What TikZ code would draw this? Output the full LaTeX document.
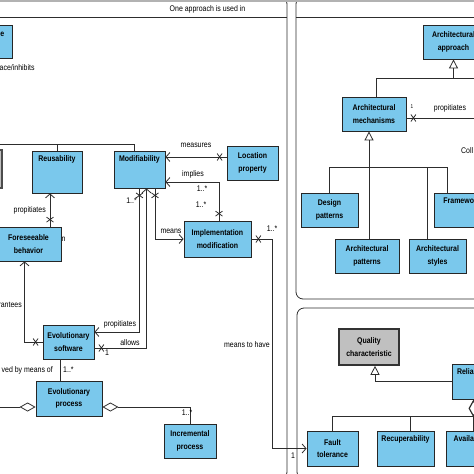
\documentclass[tikz,border=0pt]{standalone}
\usepackage{fontspec}
\setmainfont{Liberation Sans}[FakeStretch=0.85]
\usetikzlibrary{arrows.meta,decorations.markings}
\definecolor{clsblue}{RGB}{122,200,236}
\definecolor{wirec}{RGB}{45,45,45}
\definecolor{qgray}{RGB}{192,192,192}

\begin{document}
\begin{tikzpicture}[x=1pt,y=-1pt,>={Straight Barb[length=4pt,width=9pt]},
    font=\fontsize{8.2}{12.5}\selectfont,
    cls/.style={draw=black!85,fill=clsblue,line width=0.8pt,inner sep=0pt,align=center,
        font=\fontsize{8.2}{12.5}\selectfont\bfseries},
    topname/.style={cls,text height=10.5pt,text depth=#1},
    lbl/.style={inner sep=0pt},
    wire/.style={draw=wirec,line width=0.8pt},
    xs/.style={postaction={decorate,decoration={markings,mark=at position 7pt with
        {\draw[wire,-] (-2.5,-3.5) -- (2.5,3.5) (-2.5,3.5) -- (2.5,-3.5);}}}},
    xe/.style={postaction={decorate,decoration={markings,mark=at position -7pt with
        {\draw[wire,-] (-2.5,-3.5) -- (2.5,3.5) (-2.5,3.5) -- (2.5,-3.5);}}}},
    inh/.style={-{Triangle[open,length=9pt,width=9pt]}},
    agg/.style={{Diamond[open,length=16pt,width=9pt]}-}]
    \useasboundingbox (0,0) rectangle (474,474);
    \clip (0,0) rectangle (474,474);

    % panels
    \draw[wire,rounded corners=7pt] (-20,-3) rectangle (287,479);
    \draw[wire,rounded corners=7pt] (296,-3) rectangle (490,299);
    \draw[wire,rounded corners=7pt] (297,308) rectangle (490,479);
    \draw[wire] (-5,17) -- (287,17);
    \draw[wire] (296,17) -- (490,17);
    \fill[black!30] (0,0) rectangle (474,1.8);
    \node[lbl] (title) at (207.5,9) {One approach is used in};

    % left panel classes
    \node[cls,minimum width=52,minimum height=33] (sev) at (-14,41.5) {};
    \node[lbl,anchor=base east,font=\fontsize{8.2}{12.5}\selectfont\bfseries] (sevname) at (4.5,36) {e};
    \node[cls,fill=qgray,draw=gray!60!black,line width=1.6pt,minimum width=32,minimum height=38] (qatt) at (-14,169) {};
    \node[topname=31.5pt,minimum width=50] (reuse) at (57,172) {Reusability};
    \node[topname=26.5pt,minimum width=51] (modif) at (139.5,169.5) {Modifiability};
    \node[cls,minimum width=51,minimum height=34] (loc) at (252.5,163) {Location\\property};
    \node[cls,minimum width=67,minimum height=36] (impl) at (217.5,239) {Implementation\\modification};
    \node[cls,minimum width=65,minimum height=34] (fore) at (28.5,244) {Foreseeable\\behavior};
    \node[cls,minimum width=51,minimum height=34] (evsw) at (68.5,342) {Evolutionary\\software};
    \node[cls,minimum width=66,minimum height=35] (evp) at (69,398.5) {Evolutionary\\process};
    \node[cls,minimum width=52,minimum height=34] (incr) at (190,441) {Incremental\\process};

    % right panels classes
    \node[cls,minimum width=61,minimum height=34] (appr) at (453.5,42) {Architectural\\approach};
    \node[cls,minimum width=64,minimum height=34] (mech) at (374,114) {Architectural\\mechanisms};
    \node[cls,minimum width=57,minimum height=34] (dpat) at (329.5,210) {Design\\patterns};
    \node[cls,minimum width=64,minimum height=34] (apat) at (367,256) {Architectural\\patterns};
    \node[cls,minimum width=57,minimum height=34] (asty) at (437.5,256) {Architectural\\styles};
    \node[topname=23.5pt,minimum width=56] (fw) at (462,210) {Framework};
    \node[cls,fill=qgray,draw=gray!40!black,line width=1.6pt,minimum width=60,minimum height=36] (qc) at (369,347) {Quality\\characteristic};
    \node[topname=24.5pt,minimum width=43] (rel) at (473.5,381.5) {Reliability};
    \node[cls,minimum width=51,minimum height=35] (fault) at (332.5,448.5) {Fault\\tolerance};
    \node[topname=24.5pt,minimum width=57] (recup) at (405.5,448.5) {Recuperability};
    \node[topname=24.5pt,minimum width=52] (avail) at (472,448.5) {Availability};

    % left panel connectors
    \coordinate (genL) at (-5,144);
    \draw[wire] (genL) -| ([xshift=-5pt]modif.north);
    \draw[wire] (reuse.north) -- (reuse.north |- genL);
    \coordinate (rfx) at ([xshift=-7pt]reuse.south);
    \draw[wire,<-,xe] (rfx) -- (rfx |- fore.north);
    \coordinate (fgx) at ([xshift=-4pt]fore.south);
    \draw[wire,->,xs] (evsw.west) -| (fgx);
    \draw[wire,->,xs] (modif.south) |- ([yshift=10pt]evsw.east);
    \draw[wire,->,xs] ([yshift=-6pt]evsw.east) -| ([xshift=7pt]modif.south);
    \draw[wire,->,xs] ([xshift=15.5pt]modif.south) |- (impl.west);
    \coordinate (msr) at ([yshift=6pt]loc.west);
    \draw[wire,->,xs] (msr) -- (msr -| modif.east);
    \draw[wire,->,xs] ([xshift=1.5pt]impl.north) |- ([yshift=-12.5pt]modif.east);
    \coordinate (mtx) at (272,300);
    \draw[wire,->,xs] (impl.east) -- (impl.east -| mtx) |- (fault.west);
    \draw[wire] ([xshift=-8pt]evsw.south) -- ([xshift=-8pt]evsw.south |- evp.north);
    \coordinate (evpl) at ([yshift=-8.5pt]evp.west);
    \coordinate (dl) at (-5,0);
    \draw[wire,agg] (evpl) -- (evpl -| dl);
    \draw[wire,agg] ([yshift=-8.5pt]evp.east) -| (incr.north);

    % right panel connectors
    \coordinate (genR) at (485,78);
    \draw[wire] ([xshift=2pt]mech.north) |- (genR);
    \draw[wire,inh] (appr.south |- genR) -- (appr.south);
    \coordinate (prR) at (485,118);
    \draw[wire,xs] ([yshift=-4pt]mech.east) -- (prR);
    \coordinate (barM) at (0,167);
    \coordinate (fwx) at ([xshift=-15pt]fw.north);
    \coordinate (asx) at ([xshift=-10.5pt]asty.north);
    \draw[wire,inh] ([xshift=2pt]apat.north) -- ([xshift=2pt]apat.north |- mech.south);
    \draw[wire] (dpat.north) |- (barM -| fwx) -- (fwx);
    \draw[wire] (asx) -- (asx |- barM);
    \draw[wire,inh] (rel.west) -| ([xshift=6pt]qc.south);
    \coordinate (barQ) at (0,416);
    \draw[wire,line width=1.2pt,{Diamond[open,length=18pt,width=10pt]}-] (rel.south) -- (rel.south |- avail.north);
    \draw[wire] (fault.north) |- (rel.south |- barQ);
    \draw[wire] ([xshift=4.5pt]recup.north) -- ([xshift=4.5pt]recup.north |- barQ);

    % labels
    \node[lbl,anchor=west] (lInhib) at (-0.5,68) {ace/inhibits};
    \node[lbl,anchor=east] (lProp1) at (46,210) {propitiates};
    \node[lbl,anchor=west] (lN) at (61.5,239) {n};
    \node[lbl,anchor=east] (lGuar) at (22,305) {rantees};
    \node[lbl,anchor=east] (lByMeans) at (53,370) {ved by means of};
    \node[lbl,anchor=west] (lM1) at (63,370) {1..*};
    \node[lbl] (lProp2) at (120,324) {propitiates};
    \node[lbl] (lAllows) at (130,343) {allows};
    \node[lbl] (lOne1) at (107,353) {1};
    \node[lbl,anchor=east] (lM2) at (137,201) {1..*};
    \node[lbl] (lMeasures) at (196,145) {measures};
    \node[lbl] (lImplies) at (193,174) {implies};
    \node[lbl] (lM3) at (202,189) {1..*};
    \node[lbl] (lM4) at (201,205) {1..*};
    \node[lbl] (lMeans) at (171,231) {means};
    \node[lbl] (lM5) at (272,229) {1..*};
    \node[lbl,anchor=east] (lHave) at (270,345) {means to have};
    \node[lbl] (lOne2) at (293,456) {1};
    \node[lbl] (lM6) at (187,413) {1..*};
    \node[lbl] (lProp3) at (450,108) {propitiates};
    \node[lbl,font=\fontsize{5.5}{6}\selectfont] (lOne3) at (412,107) {1};
    \node[lbl,anchor=west] (lColl) at (461,151) {Coll};
\end{tikzpicture}
\end{document}
